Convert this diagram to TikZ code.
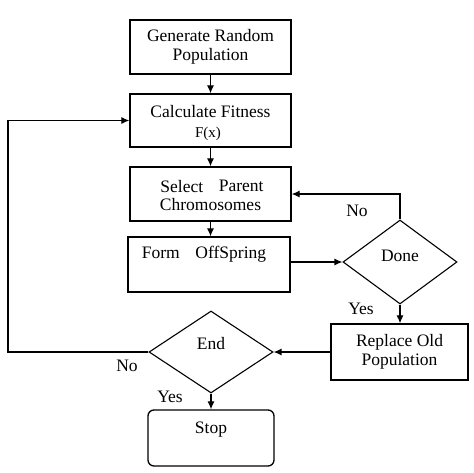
\documentclass[tikz,border=0pt]{standalone}
\usepackage{fontspec}
\setmainfont{Liberation Serif}
\usetikzlibrary{shapes.geometric,arrows.meta}
\begin{document}
\begin{tikzpicture}[x=1pt,y=-1pt,
  every node/.style={font=\fontsize{17.5}{19.5}\selectfont},
  box/.style={draw,line width=1.3pt,rectangle,inner sep=0pt,align=center},
  dia/.style={draw,line width=1.1pt,diamond,inner sep=0pt,aspect=1.4},
  lbl/.style={inner sep=0pt},
  arr/.style={line width=1.2pt,-{Latex[length=8pt,width=7pt]}}]
\useasboundingbox (0,0) rectangle (474,472);
\node[box,minimum width=161pt,minimum height=54pt] (b1) at (210.5,47) {Generate Random\\Population};
\node[box,minimum width=161pt,minimum height=53pt] (b2) at (210.5,120.5) {};
\node[lbl] (t2a) at (210.5,112) {Calculate Fitness};
\node[lbl,font=\fontsize{15}{17}\selectfont] (t2b) at (208,134) {F(x)};
\node[box,minimum width=161pt,minimum height=54pt] (b3) at (210.5,194) {};
\node[lbl] (t3a) at (212,186) {Select\hspace{0.9em}\raisebox{1pt}{Parent}};
\node[lbl] (t3b) at (210.5,205) {Chromosomes};
\node[box,minimum width=162pt,minimum height=55pt] (b4) at (209,264.5) {};
\node[lbl] (t4) at (204,254) {Form\hspace{0.9em}OffSpring};
\node[dia,minimum width=114pt,minimum height=84pt] (done) at (400,262) {};
\node[lbl] (t5) at (400,256) {Done};
\node[box,minimum width=137pt,minimum height=56pt] (rep) at (399.5,352) {Replace Old\\Population};
\node[dia,minimum width=124pt,minimum height=82pt] (end) at (211,352) {};
\node[lbl] (t6) at (211,344) {End};
\node[box,rounded corners=6pt,minimum width=126pt,minimum height=56pt] (stop) at (211,438) {};
\node[lbl] (t7) at (211,430) {Stop};
\node[lbl] (no1) at (357,211) {No};
\node[lbl] (yes1) at (361,309) {Yes};
\node[lbl] (no2) at (127,366) {No};
\node[lbl] (yes2) at (170,397) {Yes};
\coordinate (c1) at (8,352);
\draw[arr] (b1) -- (b2);
\draw[arr] (b2) -- (b3);
\draw[arr] (b3.south) -- (b3.south |- b4.north);
\draw[arr] (done.west -| b4.east) -- (done.west);
\draw[arr] (done.north) |- (b3.east);
\draw[arr] (done.south) -- (rep.north -| done.south);
\draw[arr] (rep.west) -- (end.east);
\draw[arr] (end.west) -- (c1) |- (b2.west);
\draw[arr] (end.south) -- (stop.north);
\end{tikzpicture}
\end{document}
